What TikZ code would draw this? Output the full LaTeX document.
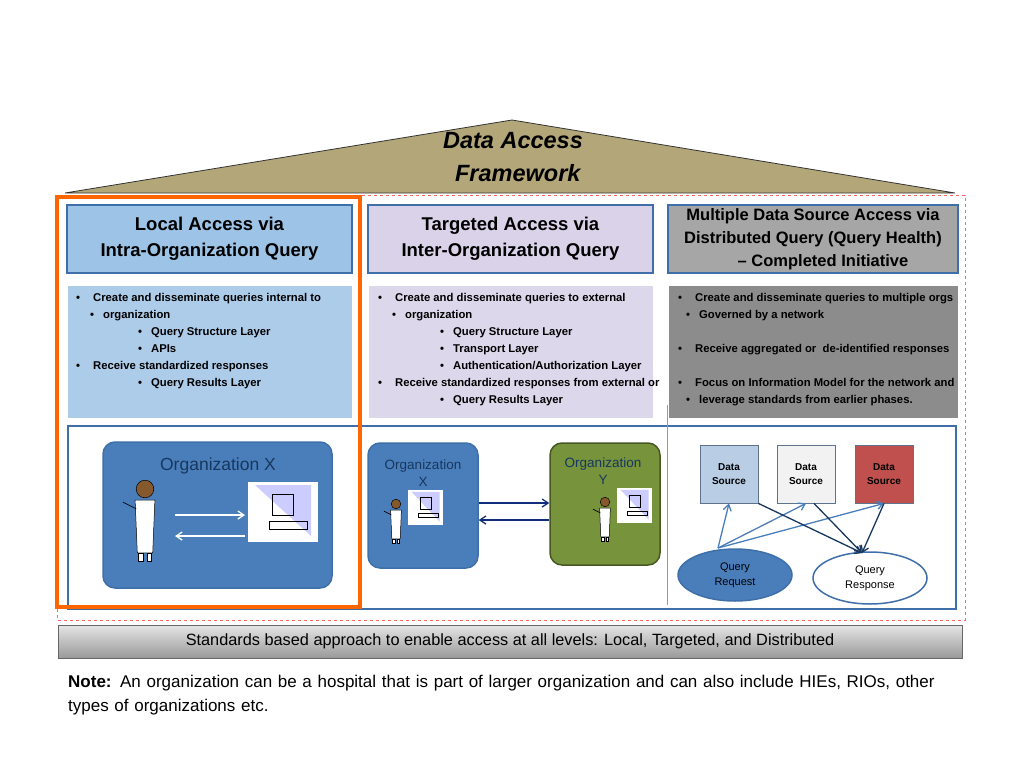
\documentclass[tikz,border=0pt]{standalone}
\usepackage{fontspec}
\setmainfont{Liberation Sans}
\usetikzlibrary{arrows.meta, shapes.geometric, positioning}
\definecolor{roof}{HTML}{B3A77A}
\definecolor{hdrblue}{HTML}{9DC3E6}
\definecolor{hdrlav}{HTML}{D9D2E9}
\definecolor{hdrgray}{HTML}{A6A6A6}
\definecolor{frameblue}{HTML}{3F6FA8}
\definecolor{orgblue}{HTML}{4A7EBB}
\definecolor{orggreen}{HTML}{77933C}
\definecolor{dsblue}{HTML}{B9CDE5}
\definecolor{dsred}{HTML}{C0504D}
\definecolor{navy}{HTML}{17375E}
\tikzset{
    header/.style = {draw=frameblue, line width=1.2pt, minimum height=68pt, align=center, font=\bfseries\fontsize{18.5}{26}\selectfont},
    bullets/.style = {anchor=north west, align=left, font=\bfseries\fontsize{11.3}{17}\selectfont, inner sep=0pt},
    panel/.style = {draw=white, line width=1pt},
    org/.style = {draw=frameblue, line width=1.5pt, rounded corners=12pt},
    orglbl/.style = {text=navy, align=center, font=\fontsize{13.5}{17}\selectfont},
    source/.style = {draw=navy!70, line width=0.8pt, minimum width=58pt, minimum height=58pt, align=center, font=\bfseries\fontsize{10}{14}\selectfont},
    query/.style = {ellipse, draw=frameblue, line width=1.5pt, minimum width=114pt, minimum height=52pt, align=center, font=\fontsize{11}{15}\selectfont},
    flow/.style = {-{Straight Barb[length=6pt,width=8pt]}, line width=1.3pt},
}
% small clip-art stand-ins
\newcommand{\doctor}[3]{%
  \begin{scope}[shift={(#1,#2)}, scale=#3]
    \fill[white, draw=black, line width=0.5pt] (-9,0) -- (-7,48) -- (7,48) -- (9,0) -- cycle;
    \fill[brown!70!black, draw=black, line width=0.5pt] (0,-10) circle (8pt);
    \draw[black, line width=0.6pt] (-8,8) -- (-20,2);
    \fill[white, draw=black, line width=0.5pt] (-6,48) rectangle (-2,56) (2,48) rectangle (6,56);
  \end{scope}}
\newcommand{\computer}[4]{%
  \begin{scope}[shift={(#1,#2)}]
    \fill[white] (0,0) rectangle (#3,#4);
    \fill[blue!20] (0.1*#3,0.05*#4) -- (0.9*#3,0.05*#4) -- (0.9*#3,0.9*#4) -- cycle;
    \draw[black, line width=0.5pt] (0.35*#3,0.2*#4) rectangle (0.65*#3,0.55*#4);
    \draw[black, line width=0.5pt] (0.3*#3,0.65*#4) rectangle (0.85*#3,0.78*#4);
  \end{scope}}

\begin{document}
\begin{tikzpicture}[x=1pt, y=-1pt]
    \useasboundingbox (0,0) rectangle (1024,768);

    % roof
    \fill[roof, draw=black!80, line width=0.8pt] (65,193) -- (512,120) -- (955,193) -- cycle;
    \node (title) [font=\bfseries\itshape\fontsize{23.5}{33}\selectfont, align=left] at (513,157) {Data Access\\\hspace{12pt}Framework};

    % frames
    \draw[red!60, dashed, line width=0.7pt] (57,195) rectangle (965,620);
    \node (bottom) [draw=frameblue, line width=2pt, fill=white, minimum width=888pt, minimum height=183pt, anchor=north west] at (67,425) {};
    \draw[black!40, line width=0.7pt] (667,405) -- (667,605);

    % headers
    \node (local) [header, fill=hdrblue, minimum width=285pt] at (209.5,239) {Local Access via\\Intra-Organization Query};
    \node (targeted) [header, fill=hdrlav, minimum width=285pt] at (510.5,239) {Targeted Access via\\Inter-Organization Query};
    \node (multiple) [header, fill=hdrgray, minimum width=290pt, font=\bfseries\fontsize{16.5}{23}\selectfont] at (813,239) {Multiple Data Source Access via\\Distributed Query (Query Health)\\\hspace{20pt}– Completed Initiative};

    % bullet boxes
    \fill[panel, fill=hdrblue!85] (67,285) rectangle (352,418);
    \fill[panel, fill=hdrlav!90] (368,285) rectangle (653,418);
    \fill[panel, fill=black!45] (668,285) rectangle (958,418);
    \node (localtxt) [bullets] at (76,293) {%
      •\hspace{13pt}Create and disseminate queries internal to\\
      \hspace{14pt}•\hspace{9pt}organization\\
      \hspace{62pt}•\hspace{9pt}Query Structure Layer\\
      \hspace{62pt}•\hspace{9pt}APIs\\
      •\hspace{13pt}Receive standardized responses\\
      \hspace{62pt}•\hspace{9pt}Query Results Layer};
    \node (targtxt) [bullets] at (378,293) {%
      •\hspace{13pt}Create and disseminate queries to external\\
      \hspace{14pt}•\hspace{9pt}organization\\
      \hspace{62pt}•\hspace{9pt}Query Structure Layer\\
      \hspace{62pt}•\hspace{9pt}Transport Layer\\
      \hspace{62pt}•\hspace{9pt}Authentication/Authorization Layer\\
      •\hspace{13pt}Receive standardized responses from external or\\
      \hspace{62pt}•\hspace{9pt}Query Results Layer};
    \node (multtxt) [bullets] at (678,293) {%
      •\hspace{13pt}Create and disseminate queries to multiple orgs\\
      \hspace{8pt}•\hspace{9pt}Governed by a network\\[17pt]
      •\hspace{13pt}Receive aggregated or\ \ de-identified responses\\[17pt]
      •\hspace{13pt}Focus on Information Model for the network and\\
      \hspace{8pt}•\hspace{9pt}leverage standards from earlier phases.};

    % local panel
    \node (orgx) [org, fill=orgblue, minimum width=229pt, minimum height=146pt] at (217.5,515) {};
    \node (orgxlbl) [orglbl, font=\fontsize{17.5}{20}\selectfont] at (218,466) {Organization X};
    \doctor{145}{500}{1.1}
    \computer{248}{482}{70}{60}
    \coordinate (xa) at (175,515);
    \coordinate (xb) at (245,515);
    \coordinate (xc) at (175,536);
    \coordinate (xd) at (245,536);
    \draw[flow, white] (xa) -- (xb);
    \draw[flow, white] (xd) -- (xc);

    % targeted panel
    \node (tx) [org, fill=orgblue, minimum width=110pt, minimum height=125pt] at (423,505.5) {};
    \node (txlbl) [orglbl] at (423,473) {Organization\\X};
    \node (ty) [org, fill=orggreen, draw=orggreen!60!black, minimum width=110pt, minimum height=122pt] at (605,504) {};
    \node (tylbl) [orglbl] at (603,471) {Organization\\Y};
    \doctor{396}{510}{0.6}
    \computer{408}{490}{35}{35}
    \doctor{605}{508}{0.6}
    \computer{617}{488}{35}{35}
    \draw[flow, navy!80!blue] (tx.east |- 0,503) -- (ty.west |- 0,503);
    \draw[flow, navy!80!blue] (ty.west |- 0,520) -- (tx.east |- 0,520);

    % distributed panel
    \node (ds1) [source, fill=dsblue] at (729,474) {Data\\Source};
    \node (ds2) [source, fill=black!5] at (806,474) {Data\\Source};
    \node (ds3) [source, fill=dsred] at (884,474) {Data\\Source};
    \node (req) [query, fill=orgblue] at (735,575) {Query\\Request};
    \node (resp) [query, fill=white] at (870,578) {Query\\Response};
    \coordinate (rq) at (718,548);
    \coordinate (rs) at (862,553);
    \draw[flow, orgblue] (rq) -- (ds1.south);
    \draw[flow, orgblue] (rq) -- (ds2.south);
    \draw[flow, orgblue] (rq) -- (ds3.south);
    \draw[flow, navy] (ds1.south east) -- (rs);
    \draw[flow, navy] (ds2.south) ++(8,0) -- (rs);
    \draw[flow, navy] (ds3.south) -- (rs);

    % orange local frame
    \draw[orange!80!red, line width=3.5pt] (57,197) rectangle (360,607);

    % standards bar
    \node (std) [draw=black!60, line width=1pt, top color=black!10, bottom color=black!40, minimum width=904pt, minimum height=33pt, font=\fontsize{16.3}{18}\selectfont] at (510,641.5) {Standards based approach to enable access at all levels: Local, Targeted, and Distributed};

    % note
    \node (note) [anchor=north west, align=left, text width=920pt, font=\fontsize{17}{24}\selectfont, inner sep=0pt] at (68,675) {\textbf{Note:} An organization can be a hospital that is part of larger organization and can also include HIEs, RIOs, other\\types of organizations etc.};
\end{tikzpicture}
\end{document}
